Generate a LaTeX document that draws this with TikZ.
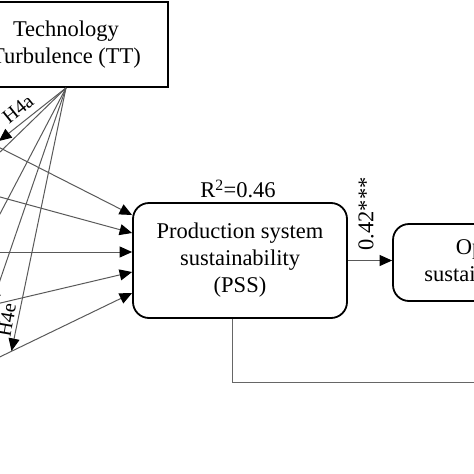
\documentclass[tikz,border=0pt]{standalone}
\usepackage{fontspec}
\setmainfont{Liberation Serif}
\usetikzlibrary{calc,arrows.meta}
\tikzset{
	box/.style={draw=black, line width=1.8pt, align=center, inner sep=0pt},
	rbox/.style={box, rounded corners=16pt},
	link/.style={draw=black!65, line width=1pt, -{Triangle[length=12.5pt,width=11pt,color=black,fill=black]}},
	plain/.style={draw=black!60, line width=1pt},
	hyp/.style={font=\fontsize{20}{22}\selectfont, inner sep=0pt},
}
\begin{document}
\begin{tikzpicture}[x=1pt, y=-1pt, font=\fontsize{22.5}{27}\selectfont]
	%%%%% START %%%%%
	\useasboundingbox (0,0) rectangle (474,474);
	\clip (0,0) rectangle (474,474);

	\node[box, minimum width=204pt, minimum height=85pt] (TT) at (66,44.5) {Technology\\Turbulence (TT)};
	\node[rbox, minimum width=214pt, minimum height=115pt] (PSS) at (240,260.5) {Production system\\sustainability\\(PSS)};
	\node[rbox, minimum width=232pt, minimum height=77pt] (OS) at (509,262.5) {Operational\\sustainability (OS)};

	\node (r2) at (238,189) {R\textsuperscript{2}=0.46};
	\node[rotate=90] (beta) at (366,214) {0.42***};

	% paths from the constructs on the left (outside the frame)
	\coordinate (s1) at (-110,92);
	\coordinate (s2) at (-110,167);
	\coordinate (s3) at (-110,252);
	\coordinate (s4) at (-110,329);
	\coordinate (s5) at (-110,410);
	\draw[link] (s1) -- ([yshift=45.5pt]PSS.west);
	\draw[link] (s2) -- ([yshift=27.5pt]PSS.west);
	\draw[link] (s3) -- ([yshift=8.5pt]PSS.west);
	\draw[link] (s4) -- ([yshift=-11.5pt]PSS.west);
	\draw[link] (s5) -- ([yshift=-32.5pt]PSS.west);

	% moderating arrows
	\coordinate (m1) at (-1,141);
	\coordinate (m2) at (-36,187);
	\coordinate (m3) at (-20,252);
	\coordinate (m4) at (-8.5,305);
	\coordinate (m5) at (11.5,351);
	\draw[link] (TT.south) -- (m1);
	\draw[link] (TT.south) -- (m2);
	\draw[link] (TT.south) -- (m3);
	\draw[link] (TT.south) -- (m4);
	\draw[link] (TT.south) -- (m5);
	\node[hyp, rotate=39] (h4a) at (18,109) {H4a};
	\node[hyp, rotate=80] (h4e) at (7,320) {H4e};

	\draw[link] (PSS.east) -- (PSS.east -| OS.west);

	\coordinate (q) at (700,382);
	\draw[plain] ([xshift=-8pt]PSS.south) |- (q);
	%%%%% END %%%%%
\end{tikzpicture}
\end{document}
